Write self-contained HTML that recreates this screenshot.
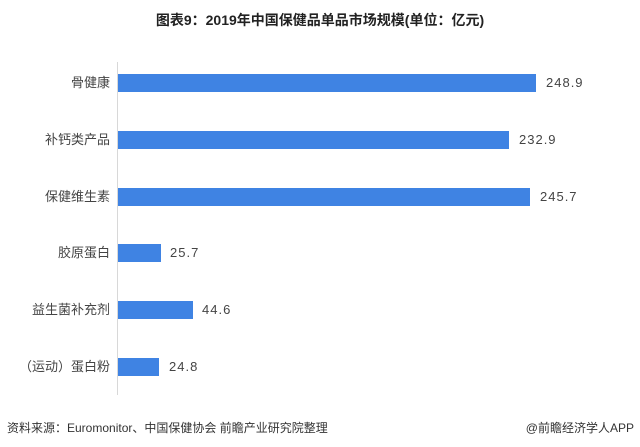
<!DOCTYPE html>
<html><head><meta charset="utf-8"><style>
body{margin:0;width:640px;height:447px;background:#fff;overflow:hidden;font-family:"Liberation Sans","Noto Sans CJK SC",sans-serif;position:relative}
.t{position:absolute;left:0;width:640px;top:10px;text-align:center;font-weight:bold;font-size:14px;color:#222}
.ax{position:absolute;left:117px;top:62px;width:1px;height:333px;background:#d8d8d8}
.b{position:absolute;left:118px;height:18px;background:#3f83e3}
.l{position:absolute;right:530px;font-size:13px;color:#444;white-space:nowrap;line-height:18px}
.v{position:absolute;font-size:13px;color:#444;line-height:18px;letter-spacing:1px}
.f{position:absolute;top:419px;font-size:12px;color:#333}
</style></head><body>
<div class="t">图表9：2019年中国保健品单品市场规模(单位：亿元)</div>
<div class="ax"></div>
<div class="l" style="top:74px">骨健康</div><div class="b" style="top:74px;width:418px"></div><div class="v" style="top:74px;left:546px">248.9</div>
<div class="l" style="top:131px">补钙类产品</div><div class="b" style="top:131px;width:391px"></div><div class="v" style="top:131px;left:519px">232.9</div>
<div class="l" style="top:188px">保健维生素</div><div class="b" style="top:188px;width:412px"></div><div class="v" style="top:188px;left:540px">245.7</div>
<div class="l" style="top:244px">胶原蛋白</div><div class="b" style="top:244px;width:43px"></div><div class="v" style="top:244px;left:170px">25.7</div>
<div class="l" style="top:301px">益生菌补充剂</div><div class="b" style="top:301px;width:75px"></div><div class="v" style="top:301px;left:202px">44.6</div>
<div class="l" style="top:358px">（运动）蛋白粉</div><div class="b" style="top:358px;width:41px"></div><div class="v" style="top:358px;left:169px">24.8</div>
<div class="f" style="left:7px">资料来源：Euromonitor、中国保健协会 前瞻产业研究院整理</div>
<div class="f" style="right:6px">@前瞻经济学人APP</div>
</body></html>
